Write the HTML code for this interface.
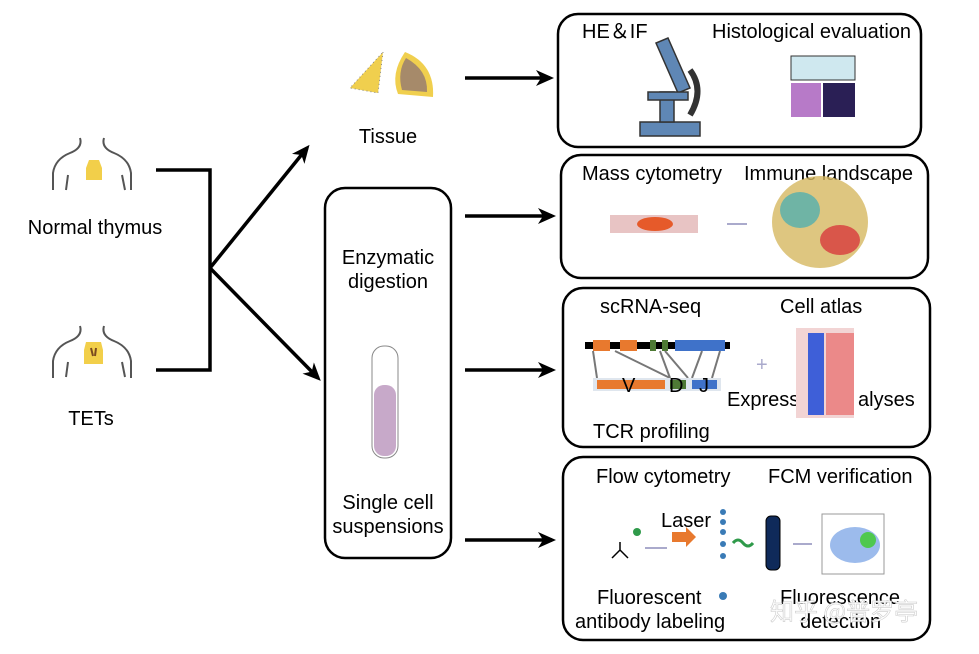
<!DOCTYPE html>
<html><head><meta charset="utf-8"><style>
body{margin:0;background:#fff;}
svg{display:block;font-family:"Liberation Sans",Arial,sans-serif;}
text{font-size:20px;fill:#000;}
</style></head><body>
<svg width="979" height="654" viewBox="0 0 979 654">
<defs>
<marker id="ah" markerWidth="18" markerHeight="16" refX="14" refY="8" orient="auto" markerUnits="userSpaceOnUse" viewBox="0 0 18 16">
<path d="M0,0 L18,8 L0,16 L5,8 Z" fill="#000"/></marker>
</defs>
<!-- people -->
<g fill="none" stroke="#555" stroke-width="2">
<path d="M80,138 q3,10 -10,15 q-15,6 -17,20 v17 M104,138 q-3,10 10,15 q15,6 17,20 v17"/>
<path d="M80,326 q3,10 -10,15 q-15,6 -17,20 v17 M104,326 q-3,10 10,15 q15,6 17,20 v17"/>
<path d="M68,175 l-2,15 M122,175 l3,15 M68,362 l-2,15 M122,362 l3,15"/>
</g>
<path d="M89,160 h10 l3,8 v12 h-16 v-12 z" fill="#f2cf4a"/>
<path d="M86,342 h15 l2,8 v14 h-19 v-14 z" fill="#f2cf4a"/>
<path d="M91,348 l2,8 M96,348 l-1,8" stroke="#7a4a20" stroke-width="2"/>
<text x="95" y="234" text-anchor="middle">Normal thymus</text>
<text x="91" y="425" text-anchor="middle">TETs</text>
<!-- bracket -->
<path d="M156,170 H210 V370 H156" fill="none" stroke="#000" stroke-width="3.5"/>
<line x1="210" y1="268" x2="307" y2="148" stroke="#000" stroke-width="3.5" marker-end="url(#ah)"/>
<line x1="210" y1="268" x2="318" y2="378" stroke="#000" stroke-width="3.5" marker-end="url(#ah)"/>
<!-- tissue -->
<path d="M383,52 L378,93 L350,88 Z" fill="#f0cf4e" stroke="#888" stroke-width="1" stroke-dasharray="1,3"/>
<path d="M405,52 q30,12 28,45 l-35,-3 q-8,-20 7,-42z" fill="#f0cf4e"/>
<path d="M406,58 q22,12 21,34 l-25,-2 q-5,-18 4,-32z" fill="#a68a6a"/>
<text x="388" y="143" text-anchor="middle">Tissue</text>
<!-- middle box -->
<rect x="325" y="188" width="126" height="370" rx="20" fill="none" stroke="#000" stroke-width="2.5"/>
<text x="388" y="264" text-anchor="middle">Enzymatic</text>
<text x="388" y="288" text-anchor="middle">digestion</text>
<rect x="372" y="346" width="26" height="112" rx="12" fill="#fff" stroke="#888"/>
<rect x="374" y="385" width="22" height="71" rx="10" fill="#c7a9c9"/>
<text x="388" y="509" text-anchor="middle">Single cell</text>
<text x="388" y="533" text-anchor="middle">suspensions</text>
<!-- horizontal arrows -->
<g stroke="#000" stroke-width="3.5" marker-end="url(#ah)">
<line x1="465" y1="78" x2="550" y2="78"/>
<line x1="465" y1="216" x2="552" y2="216"/>
<line x1="465" y1="370" x2="552" y2="370"/>
<line x1="465" y1="540" x2="552" y2="540"/>
</g>
<!-- right boxes -->
<g fill="none" stroke="#000" stroke-width="2.5">
<rect x="558" y="14" width="363" height="133" rx="20"/>
<rect x="561" y="155" width="367" height="123" rx="20"/>
<rect x="563" y="288" width="367" height="159" rx="20"/>
<rect x="563" y="457" width="367" height="183" rx="20"/>
</g>
<!-- box1 -->
<text x="582" y="38">HE＆IF</text>
<text x="712" y="38">Histological evaluation</text>
<g fill="#5f87b5" stroke="#333" stroke-width="1.5">
<path d="M668,38 l22,50 -12,5 -22,-50z"/>
<path d="M690,70 q15,20 0,45" fill="none" stroke="#333" stroke-width="6"/>
<rect x="640" y="122" width="60" height="14"/>
<path d="M660,122 v-30 h14 v30z"/>
<rect x="648" y="92" width="40" height="8"/>
</g>
<rect x="791" y="56" width="64" height="24" fill="#cfe8ef" stroke="#333"/>
<rect x="791" y="83" width="30" height="34" fill="#b77ac8"/>
<rect x="823" y="83" width="32" height="34" fill="#2a1f55"/>
<!-- box2 -->
<text x="582" y="180">Mass cytometry</text>
<text x="744" y="180">Immune landscape</text>
<rect x="610" y="215" width="88" height="18" fill="#e8c4c4"/>
<ellipse cx="655" cy="224" rx="18" ry="7" fill="#e65a2a"/>
<line x1="727" y1="224" x2="747" y2="224" stroke="#aac" stroke-width="2"/>
<ellipse cx="820" cy="222" rx="48" ry="46" fill="#d6b860" opacity="0.8"/>
<ellipse cx="800" cy="210" rx="20" ry="18" fill="#6fb4a5"/>
<ellipse cx="840" cy="240" rx="20" ry="15" fill="#d9564a"/>
<!-- box3 -->
<text x="600" y="313">scRNA-seq</text>
<text x="780" y="313">Cell atlas</text>
<rect x="585" y="342" width="145" height="7" fill="#000"/>
<rect x="593" y="340" width="17" height="11" fill="#e8792e"/>
<rect x="620" y="340" width="17" height="11" fill="#e8792e"/>
<rect x="650" y="340" width="6" height="11" fill="#4e7a35"/>
<rect x="662" y="340" width="6" height="11" fill="#4e7a35"/>
<rect x="675" y="340" width="50" height="11" fill="#3f72c9"/>
<g stroke="#777" stroke-width="2"><line x1="593" y1="351" x2="597" y2="378"/><line x1="615" y1="351" x2="670" y2="378"/><line x1="660" y1="351" x2="670" y2="378"/><line x1="665" y1="351" x2="688" y2="378"/><line x1="702" y1="351" x2="692" y2="378"/><line x1="720" y1="351" x2="712" y2="378"/></g>
<rect x="593" y="378" width="128" height="13" fill="#dfe6ee"/>
<rect x="597" y="380" width="68" height="9" fill="#e8792e"/>
<rect x="670" y="380" width="16" height="9" fill="#4e7a35"/>
<rect x="692" y="380" width="25" height="9" fill="#3f72c9"/>
<text x="622" y="392">V</text><text x="669" y="392">D</text><text x="699" y="392">J</text>
<text x="727" y="406">Express</text>
<text x="858" y="406">alyses</text>
<text x="756" y="371" style="fill:#aac">+</text>
<rect x="796" y="328" width="58" height="90" fill="#f2d4d4"/>
<rect x="808" y="333" width="16" height="82" fill="#3e5fd8"/>
<rect x="826" y="333" width="28" height="82" fill="#e86a6a" opacity="0.7"/>
<text x="593" y="438">TCR profiling</text>
<!-- box4 -->
<text x="596" y="483">Flow cytometry</text>
<text x="768" y="483">FCM verification</text>
<text x="661" y="527">Laser</text>
<path d="M672,532 h14 v-5 l10,10 -10,10 v-5 h-14z" fill="#e8792e"/>
<path d="M612,558 l8,-8 m0,0 l8,8 m-8,-8 v-8" stroke="#000" stroke-width="1.5" fill="none"/>
<circle cx="637" cy="532" r="4" fill="#2f9a4a"/>
<line x1="645" y1="548" x2="667" y2="548" stroke="#aac" stroke-width="2"/>
<g fill="#3a7bb6"><circle cx="723" cy="512" r="3"/><circle cx="723" cy="522" r="3"/><circle cx="723" cy="532" r="3"/><circle cx="723" cy="544" r="3"/><circle cx="723" cy="556" r="3"/><circle cx="723" cy="596" r="4"/></g>
<path d="M733,543 q5,-6 10,0 q5,6 10,0" stroke="#2f9a4a" stroke-width="3" fill="none"/>
<rect x="766" y="516" width="14" height="54" rx="5" fill="#0f2a5a" stroke="#000"/>
<line x1="793" y1="544" x2="812" y2="544" stroke="#aac" stroke-width="2"/>
<rect x="822" y="514" width="62" height="60" fill="#fff" stroke="#999"/>
<ellipse cx="855" cy="545" rx="25" ry="18" fill="#5a8ee0" opacity="0.6"/>
<circle cx="868" cy="540" r="8" fill="#4fc84f"/>
<text x="597" y="604">Fluorescent</text>
<text x="575" y="628">antibody labeling</text>
<text x="780" y="604">Fluorescence</text>
<text x="800" y="628">detection</text>
<text x="770" y="620" style="font-family:'Noto Sans CJK SC',sans-serif;font-size:24px;fill:#fff;stroke:#ccc;stroke-width:0.6">知乎 @普罗亭</text>
</svg>
</body></html>
